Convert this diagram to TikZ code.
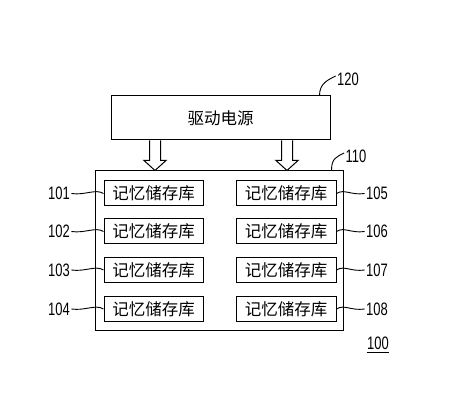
\documentclass[tikz,border=0pt]{standalone}
\usepackage{fontspec}
\setmainfont{Liberation Sans}
\newfontfamily\cjkfont{Noto Sans CJK SC}
\newfontfamily\numfont[FakeStretch=0.72]{Liberation Sans}
\usetikzlibrary{calc}

\begin{document}
\begin{tikzpicture}[x=1pt, y=-1pt, line width=1pt,
    box/.style={draw, inner sep=0pt, font=\cjkfont\fontsize{16.5}{16.5}\selectfont},
    bank/.style={box, minimum width=99pt, minimum height=25pt},
    num/.style={font=\numfont\fontsize{18}{18}\selectfont, inner sep=1pt},
    lead/.style={line width=0.9pt}]
  \useasboundingbox (0,0) rectangle (474,414);
  % power supply and storage block
  \node[box, minimum width=219pt, minimum height=44pt] (power) at (220.5,118) {驱动电源};
  \node[draw, minimum width=248pt, minimum height=159pt] (block) at (219,250.5) {};
  % hollow arrows
  \foreach \dx in {-65.5, 66.5} {
    \coordinate (t) at ($(power.south)+(\dx,0)$);
    \coordinate (h) at (t |- block.north);
    \draw[fill=white, line join=miter]
      ($(t)+(-5.5,0)$) -- ($(h)+(-5.5,-10)$) -- ($(h)+(-11,-10)$) -- (h)
      -- ($(h)+(11,-10)$) -- ($(h)+(5.5,-10)$) -- ($(t)+(5.5,0)$);
  }
  % memory banks with their labels
  \foreach \i/\y in {1/193.5, 2/231.5, 3/270, 4/309} {
    \pgfmathtruncatemacro\r{\i+104}
    \node[bank] (L\i) at (153.5,\y) {记忆储存库};
    \node[bank, minimum width=100pt] (R\i) at (286,\y) {记忆储存库};
    \node[num] (nL\i) at (59,\y) {10\i};
    \node[num] (nR\i) at (377,\y) {\r};
    \draw[lead] (nL\i.east) .. controls +(14,2) and +(-8,-5) .. (L\i.west);
    \draw[lead] (R\i.east) .. controls +(8,-5) and +(-14,2) .. (nR\i.west);
  }
  % reference numerals
  \node[num] (n120) at (348,79) {120};
  \node[num] (n110) at (356,156) {110};
  \node[num] (n100) at (378,343) {100};
  \draw[lead] ($(power.north east)+(-11,0)$) .. controls +(0,-12) and +(-8,4) .. ($(n120.west)+(0,-3)$);
  \draw[lead] ($(block.north east)+(-12,0)$) .. controls +(0,-12) and +(-8,4) .. ($(n110.west)+(0,-3)$);
  \draw[line width=1.2pt] ($(n100.south west)+(1,2)$) -- ($(n100.south east)+(-1,2)$);
\end{tikzpicture}
\end{document}
